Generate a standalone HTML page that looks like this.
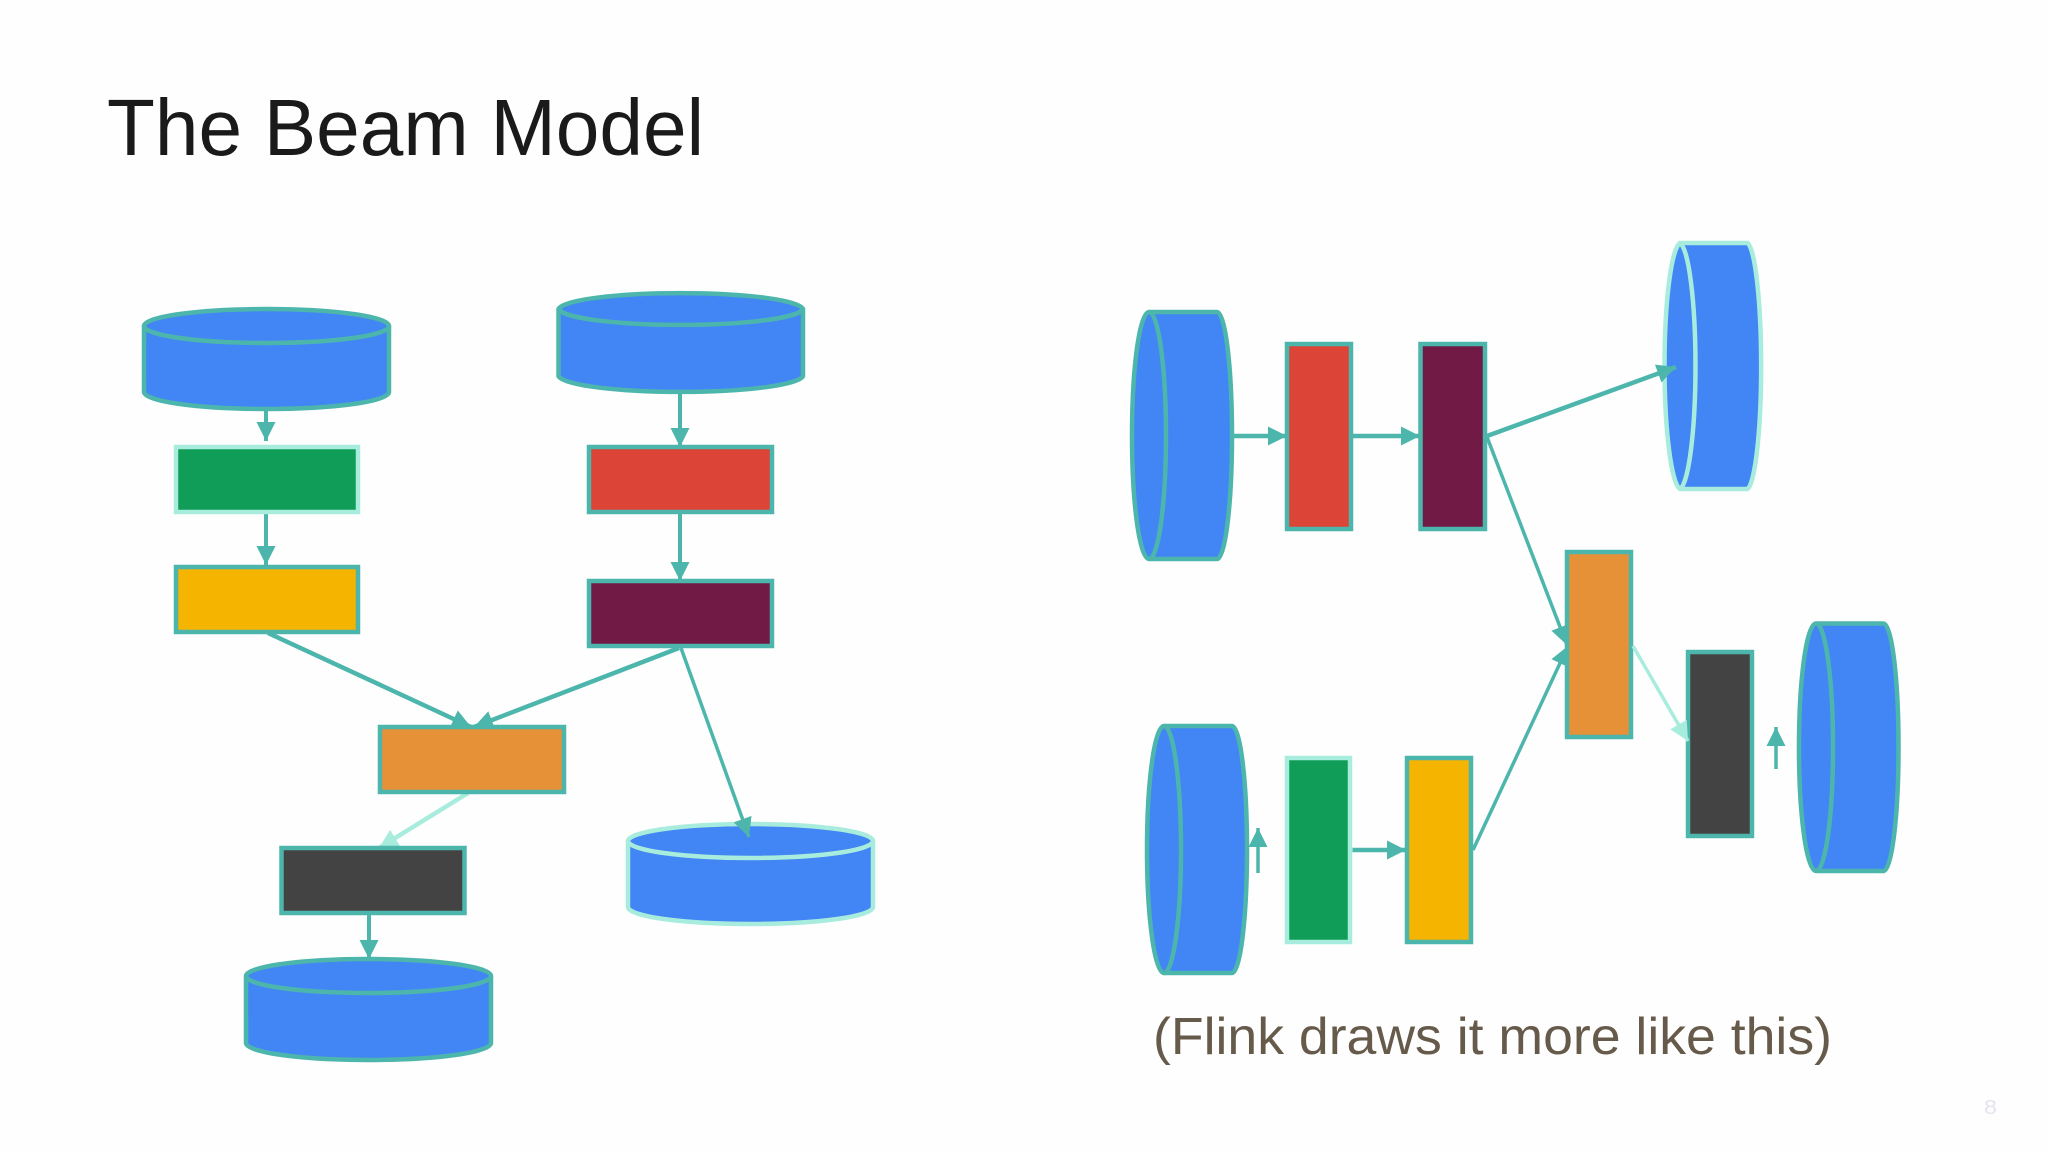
<!DOCTYPE html>
<html>
<head>
<meta charset="utf-8">
<style>
html,body{margin:0;padding:0;background:#fefefe;}
svg{display:block;}
</style>
</head>
<body>
<svg xmlns="http://www.w3.org/2000/svg" width="2048" height="1152" viewBox="0 0 2048 1152">
<defs>
<marker id="a" markerUnits="userSpaceOnUse" markerWidth="22" markerHeight="20" refX="19" refY="9.5" orient="auto"><path d="M0,0L19,9.5L0,19Z" fill="#4db6ac"/></marker>
<marker id="l" markerUnits="userSpaceOnUse" markerWidth="22" markerHeight="20" refX="19" refY="9.5" orient="auto"><path d="M0,0L19,9.5L0,19Z" fill="#a7ecdc"/></marker>
</defs>
<rect width="2048" height="1152" fill="#fefefe"/>
<text x="107" y="155" font-family="'Liberation Sans',sans-serif" font-size="80" fill="#1a1a1a" textLength="597" lengthAdjust="spacingAndGlyphs">The Beam Model</text>

<!-- left connectors -->
<g fill="none" stroke="#4db6ac" stroke-width="4">
<path d="M266,411V441" marker-end="url(#a)"/>
<path d="M266,513V565" marker-end="url(#a)"/>
<path d="M680,393V447" marker-end="url(#a)"/>
<path d="M680,513V581" marker-end="url(#a)"/>
<path d="M268,633L471,727" stroke-width="4.5" marker-end="url(#a)"/>
<path d="M679,648L474,727" stroke-width="4.5" marker-end="url(#a)"/>
<path d="M369,915V959" marker-end="url(#a)"/>
<path d="M468,793L379,848" stroke="#a7ecdc" stroke-width="4.5" marker-end="url(#l)"/>
</g>

<!-- left cylinders -->
<g fill="#4285f4" stroke="#4db6ac" stroke-width="4.5">
<path d="M144,326A122.5,17 0 0 1 389,326V392A122.5,17 0 0 1 144,392Z"/>
<path fill="none" d="M144,326A122.5,17 0 0 0 389,326"/>
<path d="M558.5,309A122.5,17 0 0 1 803,309V376A122.5,17 0 0 1 558.5,376Z"/>
<path fill="none" d="M558.5,309A122.5,17 0 0 0 803,309"/>
<path d="M246,976A122.5,17 0 0 1 491,976V1043A122.5,17 0 0 1 246,1043Z"/>
<path fill="none" d="M246,976A122.5,17 0 0 0 491,976"/>
<path stroke="#a7ecdc" d="M628,841A122.5,17 0 0 1 873,841V907A122.5,17 0 0 1 628,907Z"/>
<path stroke="#a7ecdc" fill="none" d="M628,841A122.5,17 0 0 0 873,841"/>
</g>

<!-- left rects -->
<g stroke-width="4.5" stroke="#4db6ac">
<rect x="176" y="447" width="182" height="65" fill="#0f9d58" stroke="#a7ecdc"/>
<rect x="176" y="567" width="182" height="65" fill="#f4b400"/>
<rect x="589" y="447" width="183" height="65" fill="#db4437"/>
<rect x="589" y="581" width="183" height="65" fill="#701a45"/>
<rect x="380" y="727" width="184" height="65" fill="#e69138"/>
<rect x="281.5" y="848" width="183" height="65" fill="#434343"/>
</g>
<path d="M681,648L749,837" fill="none" stroke="#4db6ac" stroke-width="3.5" marker-end="url(#a)"/>

<!-- right cylinders -->
<g fill="#4285f4" stroke="#4db6ac" stroke-width="4.5">
<path d="M1149,312H1217A15,123.5 0 0 1 1217,559H1149A17,123.5 0 0 1 1149,312Z"/>
<path fill="none" d="M1149,312A17,123.5 0 0 1 1149,559"/>
<path d="M1164,726H1232A15,123.5 0 0 1 1232,973H1164A17,123.5 0 0 1 1164,726Z"/>
<path fill="none" d="M1164,726A17,123.5 0 0 1 1164,973"/>
<path d="M1816,623.5H1883.5A15,123.5 0 0 1 1883.5,871H1816A17,123.5 0 0 1 1816,623.5Z"/>
<path fill="none" d="M1816,623.5A17,123.5 0 0 1 1816,871"/>
<path stroke="#a7ecdc" d="M1680,243H1747.5A15,123.5 0 0 1 1747.5,489H1680A17,123.5 0 0 1 1680,243Z"/>
<path stroke="#a7ecdc" fill="none" d="M1680,243A17,123.5 0 0 1 1680,489"/>
</g>

<!-- right rects -->
<g stroke-width="4.5" stroke="#4db6ac">
<rect x="1287" y="344" width="64" height="185" fill="#db4437"/>
<rect x="1420.5" y="344" width="64.5" height="185" fill="#701a45"/>
<rect x="1567" y="552" width="64" height="185" fill="#e69138"/>
<rect x="1287" y="758" width="63" height="184" fill="#0f9d58" stroke="#a7ecdc"/>
<rect x="1407" y="758" width="64" height="184" fill="#f4b400"/>
<rect x="1688" y="652" width="64" height="184" fill="#434343"/>
</g>

<!-- right connectors -->
<g fill="none" stroke="#4db6ac" stroke-width="4.5">
<path d="M1234,436H1287" marker-end="url(#a)"/>
<path d="M1352.5,436H1420" marker-end="url(#a)"/>
<path d="M1352.5,850H1406" marker-end="url(#a)"/>
<path d="M1487,436L1676,367" marker-end="url(#a)"/>
<path d="M1487,437L1567,645" stroke-width="3.5" marker-end="url(#a)"/>
<path d="M1473,850L1568,646" stroke-width="3.5" marker-end="url(#a)"/>
<path d="M1633,646L1688,741" stroke="#a7ecdc" stroke-width="3.5" marker-end="url(#l)"/>
<path d="M1258,873V828" stroke-width="3.5" marker-end="url(#a)"/>
<path d="M1776,769V727" stroke-width="3.5" marker-end="url(#a)"/>
</g>

<text x="1153" y="1054" font-family="'Liberation Sans',sans-serif" font-size="52" fill="#665a4a" textLength="679" lengthAdjust="spacingAndGlyphs">(Flink draws it more like this)</text>
<text x="1984" y="1114" font-family="'Liberation Sans',sans-serif" font-size="20" fill="#e4e4ee" textLength="13" lengthAdjust="spacingAndGlyphs">8</text>
</svg>
</body>
</html>
